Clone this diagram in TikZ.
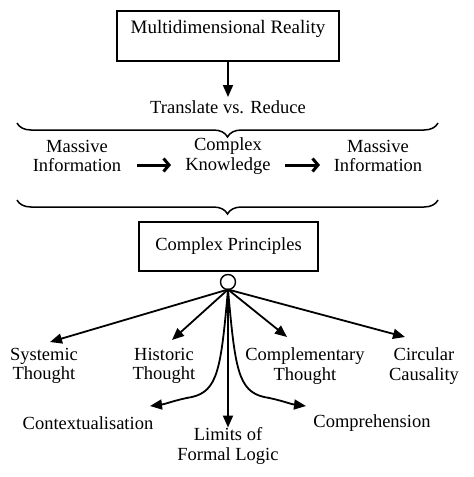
\documentclass[tikz,border=0pt]{standalone}
\usepackage{fontspec}
\setmainfont{Liberation Serif}
\usetikzlibrary{arrows.meta,decorations.pathreplacing}
\begin{document}
\begin{tikzpicture}[x=1pt,y=-1pt,
  txt/.style={font=\fontsize{18.5}{19.5}\selectfont, align=center, inner sep=0pt},
  boxed/.style={draw, line width=1.6pt, inner sep=0pt},
  tri/.style={line width=1.8pt, -{Triangle[length=12pt,width=10pt]}},
  flow/.style={line width=3pt, -{Straight Barb[length=5.5pt,width=13pt,line width=3pt]}},
  bracedec/.style={line width=1.5pt, decorate, decoration={brace, amplitude=14pt}}]
\useasboundingbox (0,0) rectangle (474,477);
% top box
\node[boxed, minimum width=222pt, minimum height=50pt] (real) at (228,36) {};
\node[txt, font=\fontsize{19}{20}\selectfont] (realt) at (228,29) {Multidimensional Reality};
\node[txt] (trans) at (228,107) {Translate vs. Reduce};
\draw[tri] (real.south) -- (228,97);
% brace 1
\coordinate (b1r) at (438,123);
\coordinate (b1l) at (17,123);
\draw[bracedec] (b1r) -- (b1l);
% middle row
\node[txt] (mi1) at (77,156) {Massive\\Information};
\node[txt] (ck) at (228,156) {Complex\\Knowledge};
\node[txt] (mi2) at (378,156) {Massive\\Information};
\coordinate (a1s) at (137,165);
\coordinate (a1e) at (171,165);
\coordinate (a2s) at (285,165);
\coordinate (a2e) at (320,165);
\draw[flow] (a1s) -- (a1e);
\draw[flow] (a2s) -- (a2e);
% brace 2
\coordinate (b2r) at (438,200);
\coordinate (b2l) at (17,200);
\draw[bracedec] (b2r) -- (b2l);
% principles box
\node[boxed, minimum width=179pt, minimum height=49pt, txt] (cp) at (228.5,246.5) {Complex Principles};
\node[draw, circle, line width=1.4pt, minimum size=15pt, inner sep=0pt] (hub) at (228,282) {};
\coordinate (o) at (228,289.5);
% labels
\node[txt] (sys) at (44,366) {Systemic\\Thought};
\node[txt] (his) at (164,366) {Historic\\Thought};
\node[txt] (com) at (305,366) {Complementary\\Thought};
\node[txt] (cir) at (424,366) {Circular\\Causality};
\node[txt] (ctx) at (88,423) {Contextualisation};
\node[txt] (lim) at (228,446) {Limits of\\Formal Logic};
\node[txt] (cmp) at (372,423) {Comprehension};
% arrows
\draw[tri] (o) -- (50,342);
\draw[tri] (o) -- (172,340);
\draw[tri] (o) -- (287,337);
\draw[tri] (o) -- (405,337);
\draw[tri] (o) -- (lim.north);
\draw[tri] (o) .. controls (221,368) and (218,391) .. (192,397) .. controls (175,400) and (166,404) .. (150,406);
\draw[tri] (o) .. controls (235,368) and (238,391) .. (264,397) .. controls (281,400) and (290,404) .. (306,406);
\end{tikzpicture}
\end{document}
